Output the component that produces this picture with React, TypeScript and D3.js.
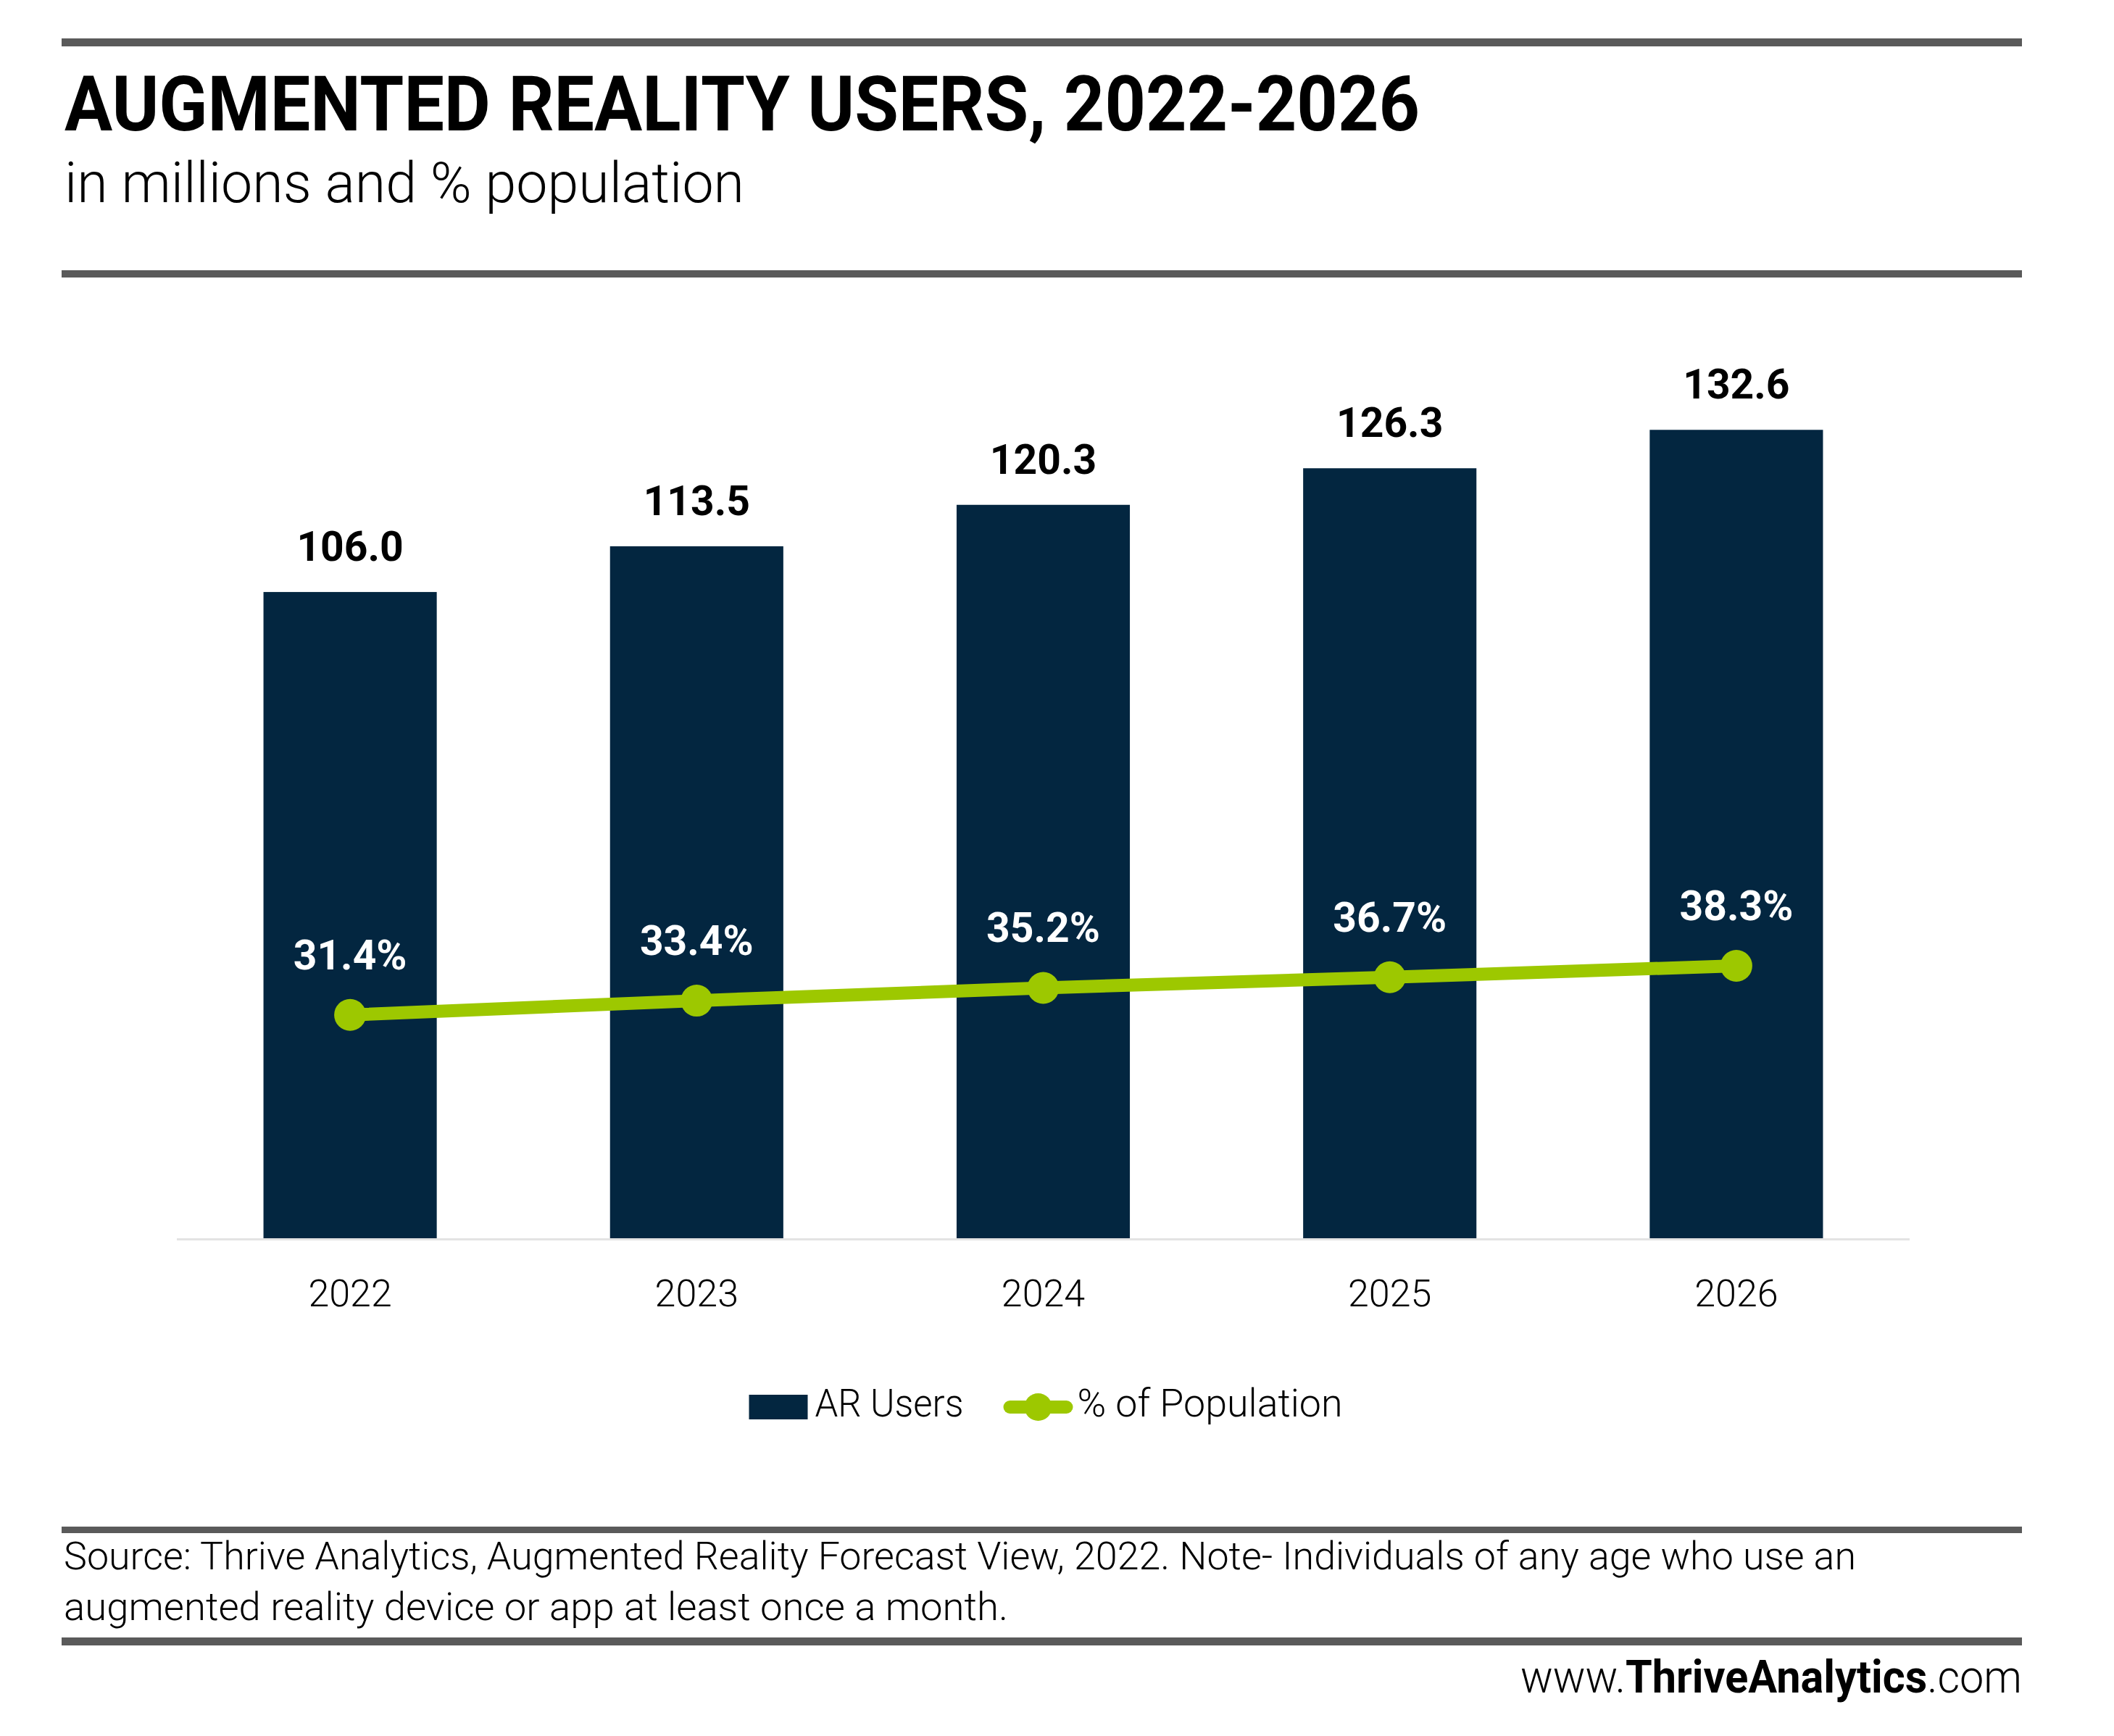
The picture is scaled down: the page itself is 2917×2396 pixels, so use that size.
import * as d3 from 'd3';
import React from 'react';

// chart values
const years = ['2022', '2023', '2024', '2025', '2026'];
const arUsers = [106.0, 113.5, 120.3, 126.3, 132.6]; // millions
const popShare = [0.314, 0.334, 0.352, 0.367, 0.383]; // share of population

const title = 'AUGMENTED REALITY USERS, 2022-2026';
const subtitle = 'in millions and % population';
const sourceLines = [
  'Source: Thrive Analytics, Augmented Reality Forecast View, 2022. Note- Individuals of any age who use an',
  'augmented reality device or app at least once a month.',
];
const legendLabels = ['AR Users', '% of Population'];

const W = 2917;
const H = 2396;
const FONT = 'Roboto, "Noto Sans", "DejaVu Sans", sans-serif';
const BAR = '#032640';
const GREEN = '#9dc800';
const RULE = '#5a5a5a';

const App: React.FC = () => {
  const plot = { left: 244, right: 2635, top: 531, bottom: 1709 };
  const page = { left: 85, right: 2790 };

  const x = d3
    .scaleBand<string>()
    .domain(years)
    .range([plot.left, plot.right])
    .paddingInner(0.5)
    .paddingOuter(0.25);

  const y = d3.scaleLinear().domain([0, 140]).range([plot.bottom, plot.top]);
  const yPct = d3.scaleLinear().domain([0, 1.2]).range([plot.bottom, plot.top]);

  const cx = (yr: string) => (x(yr) ?? 0) + x.bandwidth() / 2;

  const line = d3
    .line<number>()
    .x((_, i) => cx(years[i]))
    .y((d) => yPct(d));

  const fmtNum = d3.format('.1f');
  const fmtPct = d3.format('.1%');

  const legendMid = (plot.left + plot.right) / 2;
  const lgY = 1942;
  const ruleW = page.right - page.left;

  return (
    <div style={{ position: 'absolute', left: 0, top: 0 }}>
      <svg width={W} height={H} style={{ display: 'block', background: '#fff' }} fontFamily={FONT}>
        <rect width={W} height={H} fill="#fff" />

        {/* header */}
        <rect x={page.left} y={53} width={ruleW} height={11} fill={RULE} />
        <text x={89} y={180} fontSize={105} fontWeight={700} fill="#000" textLength={1870} lengthAdjust="spacingAndGlyphs">
          {title}
        </text>
        <text x={89} y={279} fontSize={77} fontWeight={300} fill="#000" textLength={938} lengthAdjust="spacingAndGlyphs">
          {subtitle}
        </text>
        <rect x={page.left} y={373} width={ruleW} height={10} fill={RULE} />

        {/* bars */}
        {years.map((yr, i) => (
          <rect
            key={yr}
            x={x(yr)}
            y={y(arUsers[i])}
            width={x.bandwidth()}
            height={y(0) - y(arUsers[i])}
            fill={BAR}
          />
        ))}
        {years.map((yr, i) => (
          <text
            key={'v' + yr}
            x={cx(yr)}
            y={y(arUsers[i]) - 43}
            textAnchor="middle"
            fontSize={57}
            fontWeight={700}
            fill="#000"
          >
            {fmtNum(arUsers[i])}
          </text>
        ))}

        {/* axis line */}
        <line x1={plot.left} x2={plot.right} y1={plot.bottom + 1.5} y2={plot.bottom + 1.5} stroke="#e3e3e3" strokeWidth={3} />
        {years.map((yr) => (
          <text key={'t' + yr} x={cx(yr)} y={1803} textAnchor="middle" fontSize={52} fontWeight={300} fill="#000">
            {yr}
          </text>
        ))}

        {/* percent line */}
        <path d={line(popShare) ?? ''} fill="none" stroke={GREEN} strokeWidth={18} />
        {years.map((yr, i) => (
          <circle key={'c' + yr} cx={cx(yr)} cy={yPct(popShare[i])} r={22} fill={GREEN} />
        ))}
        {years.map((yr, i) => (
          <text
            key={'p' + yr}
            x={cx(yr)}
            y={yPct(popShare[i]) - 63}
            textAnchor="middle"
            fontSize={57}
            fontWeight={700}
            fill="#fff"
          >
            {fmtPct(popShare[i])}
          </text>
        ))}

        {/* legend */}
        <g>
          <rect x={legendMid - 406} y={lgY - 17} width={81} height={34} fill={BAR} />
          <text x={legendMid - 315} y={lgY + 13} fontSize={53} fontWeight={300} fill="#000" textLength={205} lengthAdjust="spacingAndGlyphs">
            {legendLabels[0]}
          </text>
          <line
            x1={legendMid - 46}
            x2={legendMid + 32}
            y1={lgY}
            y2={lgY}
            stroke={GREEN}
            strokeWidth={18}
            strokeLinecap="round"
          />
          <circle cx={legendMid - 7} cy={lgY} r={19} fill={GREEN} />
          <text x={legendMid + 47} y={lgY + 13} fontSize={53} fontWeight={300} fill="#000" textLength={366} lengthAdjust="spacingAndGlyphs">
            {legendLabels[1]}
          </text>
        </g>

        {/* footer */}
        <rect x={page.left} y={2107} width={ruleW} height={9} fill={RULE} />
        <text x={88} y={2166} fontSize={53} fontWeight={300} fill="#000" textLength={2473} lengthAdjust="spacingAndGlyphs">
          {sourceLines[0]}
        </text>
        <text x={88} y={2236} fontSize={53} fontWeight={300} fill="#000" textLength={1303} lengthAdjust="spacingAndGlyphs">
          {sourceLines[1]}
        </text>
        <rect x={page.left} y={2260} width={ruleW} height={11} fill={RULE} />
        <text x={page.right - 692} y={2336} fontSize={63} fill="#000" textLength={692} lengthAdjust="spacingAndGlyphs">
          <tspan fontWeight={300}>www.</tspan>
          <tspan fontWeight={700}>ThriveAnalytics</tspan>
          <tspan fontWeight={300}>.com</tspan>
        </text>
      </svg>
    </div>
  );
};

export default App;
